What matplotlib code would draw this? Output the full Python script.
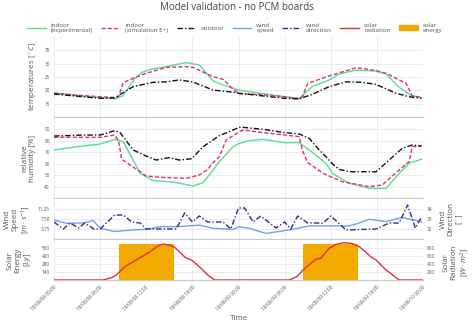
import matplotlib
matplotlib.use("Agg")
import matplotlib.pyplot as plt
from matplotlib.lines import Line2D
from matplotlib.patches import Patch

plt.rcParams['font.family'] = ['Open Sans', 'DejaVu Sans']
plt.rcParams['mathtext.fontset'] = 'custom'
plt.rcParams['mathtext.rm'] = 'Open Sans'
plt.rcParams['mathtext.it'] = 'Open Sans:italic'

# time in hours since 18/08/08 00:00
xtick_labels = ['18/08/08 00:00', '18/08/08 06:00', '18/08/08 12:00', '18/08/08 18:00',
                '18/08/09 00:00', '18/08/09 06:00', '18/08/09 12:00', '18/08/09 18:00',
                '18/08/10 00:00']

# temperatures
t_temp_exp = [0, 3, 6, 7.9, 9, 9.8, 10.5, 11.5, 12.5, 14.6, 17.2, 18.9, 19.8, 20.7, 22, 23.3, 24.1,
              25.4, 30, 31.9, 33.6, 35.8, 37.1, 39.3, 41.9, 43.2, 44.9, 46.4, 47.8]
temp_exp = [19.1, 18.0, 17.3, 16.8, 18.0, 21.5, 24.5, 26.8, 27.8, 28.9, 30.4, 29.5, 26.5, 23.5, 22.0,
            20.8, 20.0, 19.5, 17.6, 17.0, 21.4, 23.9, 26.1, 27.6, 27.2, 26.1, 21.1, 18.2, 17.2]
t_temp_sim = [0, 3, 6, 7.9, 8.4, 9.0, 10.3, 12, 14.6, 17.2, 18.1, 20.7, 22.0, 23.3, 24.1, 27, 30,
              31.9, 32.3, 33.0, 35.8, 39.3, 41.9, 43.2, 45.8, 46.6, 47.8]
temp_sim = [18.9, 18.2, 17.6, 17.3, 17.6, 22.9, 24.5, 26.4, 28.6, 28.9, 28.6, 25.1, 24.1, 20.4, 18.7,
            18.4, 17.6, 16.8, 17.5, 22.6, 25.4, 28.5, 27.4, 26.4, 22.6, 17.9, 17.4]
t_temp_out = [0, 3, 6, 7.9, 10.3, 12.9, 14.6, 16.3, 18.1, 20.7, 23.3, 24.1, 27.2, 30, 31.9, 33.6,
              35.8, 38, 40.1, 41.9, 44.5, 46.2, 47.8]
temp_out = [18.6, 17.8, 17.0, 17.2, 21.4, 23.0, 23.2, 23.9, 23.1, 20.1, 19.3, 18.9, 17.9, 17.0, 16.8,
            18.5, 21.4, 23.2, 23.0, 22.2, 18.9, 17.6, 17.0]

# relative humidity
t_hum_exp = [0, 3.8, 6, 7.9, 9, 10.3, 11.2, 12.9, 15.5, 18.1, 19.4, 20.7, 21.5, 23.3, 24.1, 25.4,
             27.2, 30, 31.9, 33.2, 35.4, 36.2, 38.4, 41, 43.2, 44.9, 46.2, 47.8]
hum_exp = [72, 75.5, 77.2, 81.3, 79.3, 63.2, 51.6, 45.2, 44, 40.5, 43.4, 54.5, 61.8, 74.9, 77.8, 80.2,
           81.3, 78.4, 78.4, 72, 60.4, 51.6, 42.9, 38.5, 38.5, 51.6, 60.4, 64]
t_hum_sim = [0, 6, 7.9, 8.4, 8.8, 10.3, 11.2, 12, 13.8, 17.2, 18.9, 20.0, 20.7, 21.5, 22.4, 24.1,
             24.6, 27.2, 31.9, 32.3, 33.0, 35, 37.5, 41, 42.7, 44.9, 46.2, 46.6, 47.8]
hum_sim = [83.1, 83.1, 85.1, 80, 64, 57, 53, 49.2, 48.1, 47.2, 50.1, 55, 61, 66, 80.7, 88, 89.5,
           87.2, 83.7, 72, 61, 51.6, 44.3, 39.9, 41.4, 54.5, 61.8, 74.9, 75.5]
t_hum_out = [0, 3.8, 6, 7.9, 8.6, 10.3, 12, 13.3, 15, 16.3, 17.9, 19.4, 21.5, 24.1, 24.6, 27.2, 30,
             31.9, 33.2, 34.5, 35.4, 36.2, 37.1, 38.4, 41.9, 43.6, 45.3, 46.6, 47.8]
hum_out = [84.2, 85.1, 85.1, 88.9, 87.2, 72, 66.7, 63.2, 65.3, 63.2, 64.4, 74.9, 84.5, 91.8, 91.8,
           90.1, 87.2, 86, 82.2, 72, 66, 60, 55, 53, 53, 63.2, 73.5, 76.4, 75.5]

# wind
t_wspeed = [0, 1.6, 3.8, 5.1, 6, 7.9, 10.3, 12, 13.8, 15.9, 18.9, 20.7, 23.3, 24.1, 25.4, 27.6,
            30.6, 33.2, 35.8, 38.4, 39.3, 41, 43.2, 45.3, 47.8]
wspeed = [7.1, 5.9, 6.0, 6.9, 4.0, 2.8, 3.4, 3.6, 4.6, 4.6, 5.2, 4.0, 3.6, 4.6, 4.0, 2.1,
          3.4, 4.9, 4.9, 4.9, 5.6, 7.4, 6.5, 8.1, 6.5]
t_wdir = [0, 1.2, 2.1, 3.2, 4, 5.2, 6, 7.9, 9, 10.1, 11.2, 12, 13.8, 15.9, 17, 18, 18.9, 20, 22, 23,
          24, 24.8, 25.9, 26.9, 28.9, 30, 30.8, 31.7, 33, 35, 36, 38, 41.9, 43.6, 44.9, 46, 47, 47.8]
wdir = [32.7, 32.0, 32.6, 32.1, 32.6, 32.0, 32.0, 33.4, 33.4, 32.7, 32.6, 32.0, 32.0, 32.0, 33.6,
        32.7, 33.3, 32.7, 32.7, 32.0, 34.1, 34.1, 32.7, 33.3, 32.1, 32.7, 32.0, 33.3, 32.6, 32.6,
        33.3, 31.9, 32.0, 32.6, 32.6, 34.4, 32.1, 33.2]

# solar
t_rad = [0, 6.4, 7.5, 8.1, 9.2, 10.3, 12.5, 13.5, 14.2, 15, 15.7, 16.3, 17.1, 17.9, 19, 20, 20.9,
         30.6, 31.6, 32.4, 34.1, 34.7, 35.8, 36.7, 37.7, 38.7, 39.7, 40.5, 41.2, 41.9, 43.1, 44.9, 48]
rad = [0, 0, 60, 125, 333, 458, 708, 850, 900, 875, 817, 708, 558, 500, 317, 125, 0,
       0, 83, 250, 525, 542, 792, 892, 932, 917, 833, 708, 583, 500, 267, 0, 0]
t_energy = [12, 36]
energy = [630, 630]

fig = plt.figure(figsize=(4.74, 3.27), dpi=100)
W, H = 474, 327
x0, x1 = 54, 423


def box(top, bottom):
    return [x0 / W, 1 - bottom / H, (x1 - x0) / W, (bottom - top) / H]


grid_c = '#e8ecf2'
tick_c = '#555555'
line_c = '#c8c8c8'


def style(ax, yticks, ylim, show_x=False):
    ax.set_xlim(0, 48)
    ax.set_ylim(*ylim)
    ax.set_xticks(range(0, 49, 6))
    ax.set_yticks(yticks)
    ax.grid(True, color=grid_c, lw=0.7)
    ax.set_axisbelow(True)
    for s in ['top', 'left', 'right']:
        ax.spines[s].set_visible(False)
    ax.spines['bottom'].set_color(line_c)
    ax.spines['bottom'].set_linewidth(0.9)
    ax.tick_params(length=0, labelsize=3.4, colors=tick_c, pad=3)
    if show_x:
        ax.set_xticklabels(xtick_labels, rotation=45, ha='right', va='top',
                           rotation_mode='anchor', fontsize=3.4)
    else:
        ax.set_xticklabels([])


green = '#55e08e'
pink = '#e0326e'
black = '#111111'
lblue = '#6aa4ee'
navy = '#2b2b90'
red = '#e0303c'
orange = '#f2a900'

ax1 = fig.add_axes(box(37, 117))
ax1.plot(t_temp_exp, temp_exp, color=green, lw=1.0)
ax1.plot(t_temp_sim, temp_sim, color=pink, lw=1.0, ls=(0, (3, 1.5)))
ax1.plot(t_temp_out, temp_out, color=black, lw=1.0, ls=(0, (4, 1.5, 1, 1.5)))
style(ax1, [15, 20, 25, 30, 35], (10, 40))

ax2 = fig.add_axes(box(118, 198))
ax2.plot(t_hum_exp, hum_exp, color=green, lw=1.0)
ax2.plot(t_hum_sim, hum_sim, color=pink, lw=1.0, ls=(0, (3, 1.5)))
ax2.plot(t_hum_out, hum_out, color=black, lw=1.0, ls=(0, (4, 1.5, 1, 1.5)))
style(ax2, [40, 50, 60, 70, 80, 90], (30, 100))

ax3 = fig.add_axes(box(199, 239))
ax3.plot(t_wspeed, wspeed, color=lblue, lw=1.0)
style(ax3, [3.75, 7.5, 11.25], (0, 15))
ax3.set_yticklabels(['3.75', '7.50', '11.25'])
ax3r = ax3.twinx()
ax3r.plot(t_wdir, wdir, color=navy, lw=1.0, ls=(0, (4, 1.5, 1, 1.5)))
ax3r.set_ylim(31, 35)
ax3r.set_yticks([32, 33, 34])
ax3r.tick_params(length=0, labelsize=3.4, colors=tick_c, pad=3)
for s in ax3r.spines.values():
    s.set_visible(False)

ax4 = fig.add_axes(box(240, 280))
ax4.bar(t_energy, energy, width=7.1, color=orange, zorder=2)
style(ax4, [140, 280, 420, 560], (0, 700), show_x=True)
ax4r = ax4.twinx()
ax4r.plot(t_rad, rad, color=red, lw=1.0)
ax4r.set_ylim(0, 1000)
ax4r.set_yticks([200, 400, 600, 800])
ax4r.tick_params(length=0, labelsize=3.4, colors=tick_c, pad=3)
for s in ax4r.spines.values():
    s.set_visible(False)

lab_c = '#555555'
lab_fs = 5.8


def ylab(x, y, txt):
    fig.text(x / W, 1 - y / H, txt, rotation=90, ha='center', va='center',
             multialignment='center', fontsize=lab_fs, color=lab_c, linespacing=1.15)


ylab(33, 76, 'temperatures [$^\\circ C$]')
ylab(29, 158, 'relative\nhumidity [%]')
ylab(18, 219, 'Wind\nSpeed\n[$m \\cdot s^{-1}$]')
ylab(20, 260, 'Solar\nEnergy\n[$Ly$]')
ylab(453, 219, 'Wind\nDirection\n[$^\\circ$]')
ylab(457, 262, 'Solar\nRadiation\n[$W \\cdot m^2$]')

fig.text(0.5, 1 - 8 / H, 'Model validation - no PCM boards', ha='center', va='center',
         fontsize=7, color='#444444')
fig.text(239 / W, 1 - 319 / H, 'Time', ha='center', va='center', fontsize=5.8, color=lab_c)

handles = [Line2D([], [], color=green, lw=1.0),
           Line2D([], [], color=pink, lw=1.0, ls=(0, (3, 1.5))),
           Line2D([], [], color=black, lw=1.0, ls=(0, (4, 1.5, 1, 1.5))),
           Line2D([], [], color=lblue, lw=1.0),
           Line2D([], [], color=navy, lw=1.0, ls=(0, (4, 1.5, 1, 1.5))),
           Line2D([], [], color=red, lw=1.0),
           Patch(color=orange)]
labels = ['indoor\n(experimental)', 'indoor\n(simulation E+)', 'outdoor', 'wind\nspeed',
          'wind\ndirection', 'solar\nradiation', 'solar\nenergy']
leg = fig.legend(handles, labels, loc='center left', bbox_to_anchor=(27 / W, 1 - 28 / H),
                 ncol=7, frameon=False, fontsize=4.5, handlelength=3.0, handleheight=0.9,
                 handletextpad=0.8, columnspacing=1.35, labelcolor='#555555', borderaxespad=0,
                 borderpad=0)

fig.savefig('out.png', dpi=100)
